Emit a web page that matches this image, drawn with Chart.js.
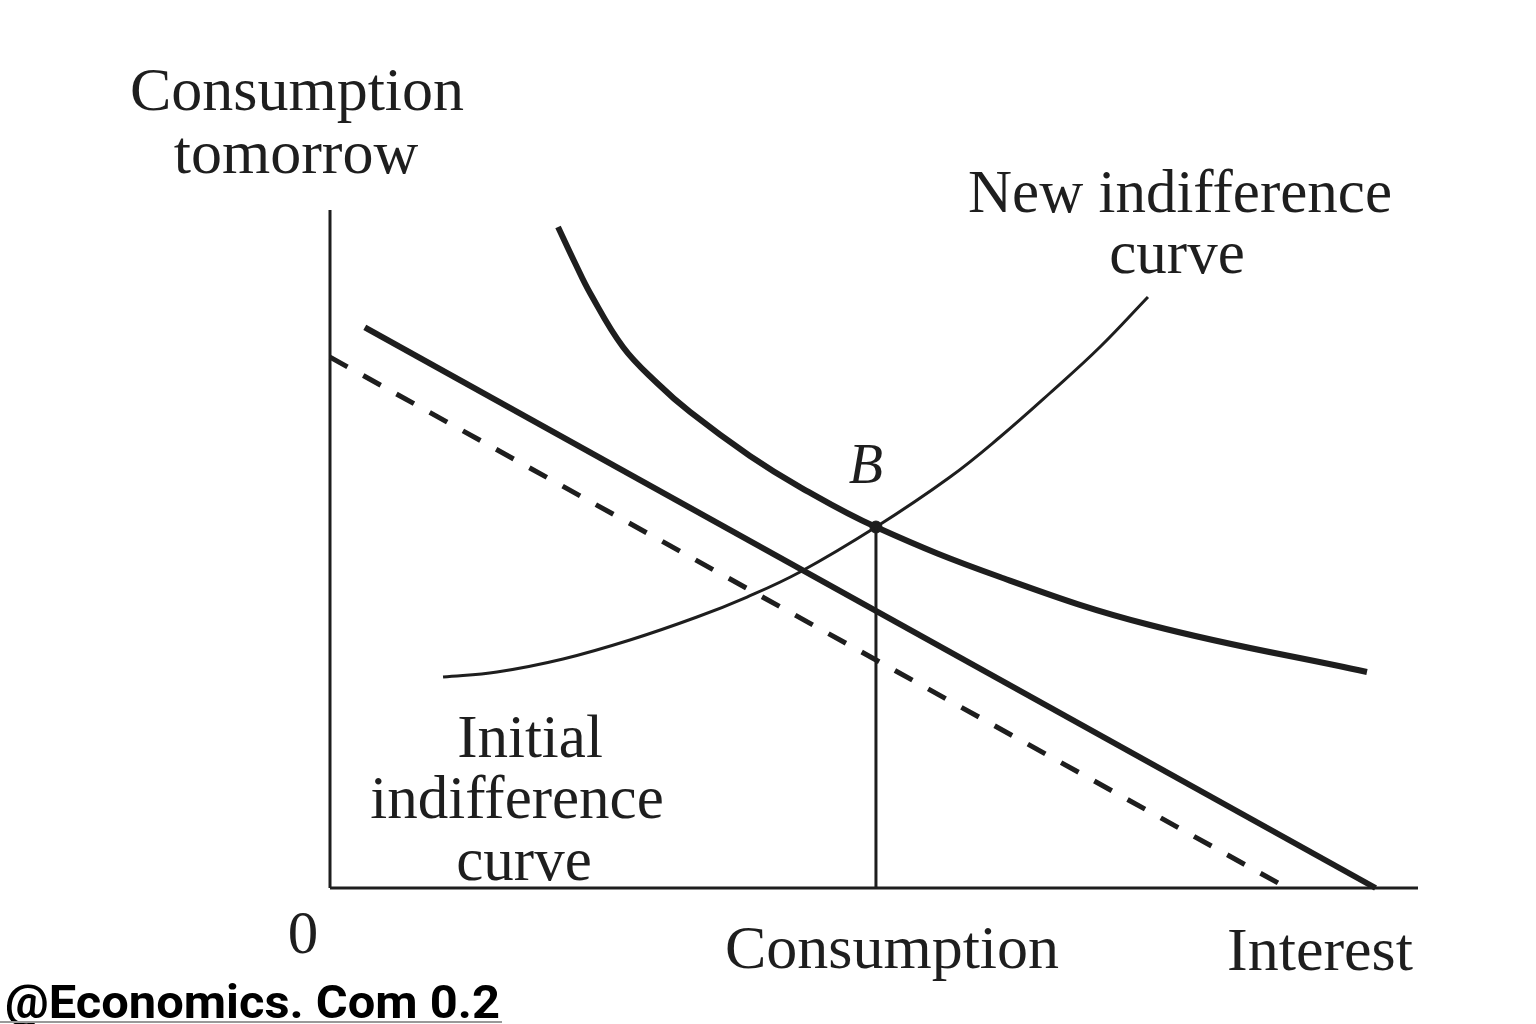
<!DOCTYPE html>
<html>
<head>
<meta charset="utf-8">
<script src="https://cdn.jsdelivr.net/npm/chart.js@4/dist/chart.umd.min.js"></script>
<style>
  html, body { margin: 0; padding: 0; background: #fff; }
  #wrap { width: 1536px; height: 1024px; }
</style>
</head>
<body>
<div id="wrap"><canvas id="myChart" width="1536" height="1024"></canvas></div>
<script>
// data (x = consumption today, y = consumption tomorrow), units 0..10
let newCurveX = [2.096, 2.252, 2.390, 2.693, 3.006, 3.309, 3.860, 4.320, 5.018, 6.158, 7.537, 9.531];
let newCurveY = [9.749, 9.218, 8.776, 7.979, 7.448, 7.021, 6.372, 5.914, 5.324, 4.587, 3.879, 3.186];

let initCurveX = [1.039, 1.535, 2.142, 2.757, 3.373, 3.833, 4.320, 5.018, 5.699, 6.158, 6.618, 7.077, 7.518];
let initCurveY = [3.112, 3.186, 3.378, 3.658, 3.997, 4.292, 4.661, 5.324, 6.062, 6.652, 7.301, 7.979, 8.717];

let budgetX = [0.32, 9.61];
let budgetY = [8.27, 0];

let dashedX = [0, 8.73];
let dashedY = [7.83, 0.06];

let pointB = { x: 5.018, y: 5.324 };

function pts(xs, ys) {
  return xs.map(function (x, i) { return { x: x, y: ys[i] }; });
}

const serif = '"Liberation Serif", "DejaVu Serif", serif';
const ink = '#1e1e1e';

// text labels drawn on top
const labels = {
  id: 'labels',
  afterDraw(c) {
    const ctx = c.ctx;
    ctx.save();
    ctx.fillStyle = ink;
    ctx.textAlign = 'center';
    ctx.textBaseline = 'alphabetic';
    ctx.font = '62px ' + serif;
    ctx.fillText('Consumption', 297, 110);
    ctx.fillText('tomorrow', 296, 173);
    ctx.font = '61px ' + serif;
    ctx.fillText('New indifference', 1180, 212);
    ctx.fillText('curve', 1177, 273);
    ctx.fillText('Initial', 530, 757);
    ctx.fillText('indifference', 517, 818);
    ctx.fillText('curve', 524, 880);
    ctx.fillText('0', 303, 953);
    ctx.font = '62px ' + serif;
    ctx.fillText('Consumption', 892, 968);
    ctx.fillText('Interest', 1320, 970);

    // B label, just above the point
    const bx = c.scales.x.getPixelForValue(pointB.x);
    const by = c.scales.y.getPixelForValue(pointB.y);
    ctx.font = 'italic 56px ' + serif;
    ctx.fillText('B', bx - 10, by - 44);

    // watermark
    ctx.font = 'bold 46px Roboto, "Liberation Sans", sans-serif';
    ctx.textAlign = 'left';
    const wm = '@Economics. Com 0.2';
    const w = ctx.measureText(wm).width;
    ctx.save();
    ctx.translate(5, 1018);
    ctx.scale(495 / w, 1);
    ctx.fillStyle = '#000';
    ctx.fillText(wm, 0, 0);
    ctx.restore();
    ctx.strokeStyle = '#999';
    ctx.lineWidth = 2;
    ctx.beginPath();
    ctx.moveTo(0, 1022);
    ctx.lineTo(502, 1022);
    ctx.stroke();
    ctx.restore();
  }
};

function line(data, width, extra) {
  return Object.assign({
    data: data,
    showLine: true,
    borderColor: ink,
    borderWidth: width,
    pointRadius: 0,
    fill: false,
    clip: false
  }, extra || {});
}

const ctx = document.getElementById('myChart').getContext('2d');
const chart = new Chart(ctx, {
  type: 'scatter',
  data: {
    datasets: [
      line(pts([0, 0], [0, 10]), 3),
      line(pts([0, 10], [0, 0]), 3),
      line(pts([pointB.x, pointB.x], [pointB.y, 0]), 3),
      line(pts(dashedX, dashedY), 5, { borderDash: [20, 18] }),
      line(pts(budgetX, budgetY), 6),
      line(pts(initCurveX, initCurveY), 3, { tension: 0.4 }),
      line(pts(newCurveX, newCurveY), 6, { tension: 0.4 }),
      {
        data: [pointB],
        pointRadius: 6,
        pointBackgroundColor: ink,
        pointBorderColor: ink,
        clip: false
      }
    ]
  },
  options: {
    responsive: false,
    animation: false,
    devicePixelRatio: 1,
    layout: { padding: { left: 330, right: 118, top: 210, bottom: 136 } },
    plugins: { legend: { display: false }, tooltip: { enabled: false } },
    scales: {
      x: { type: 'linear', min: 0, max: 10, display: false },
      y: { type: 'linear', min: 0, max: 10, display: false }
    }
  },
  plugins: [labels]
});
</script>
</body>
</html>
